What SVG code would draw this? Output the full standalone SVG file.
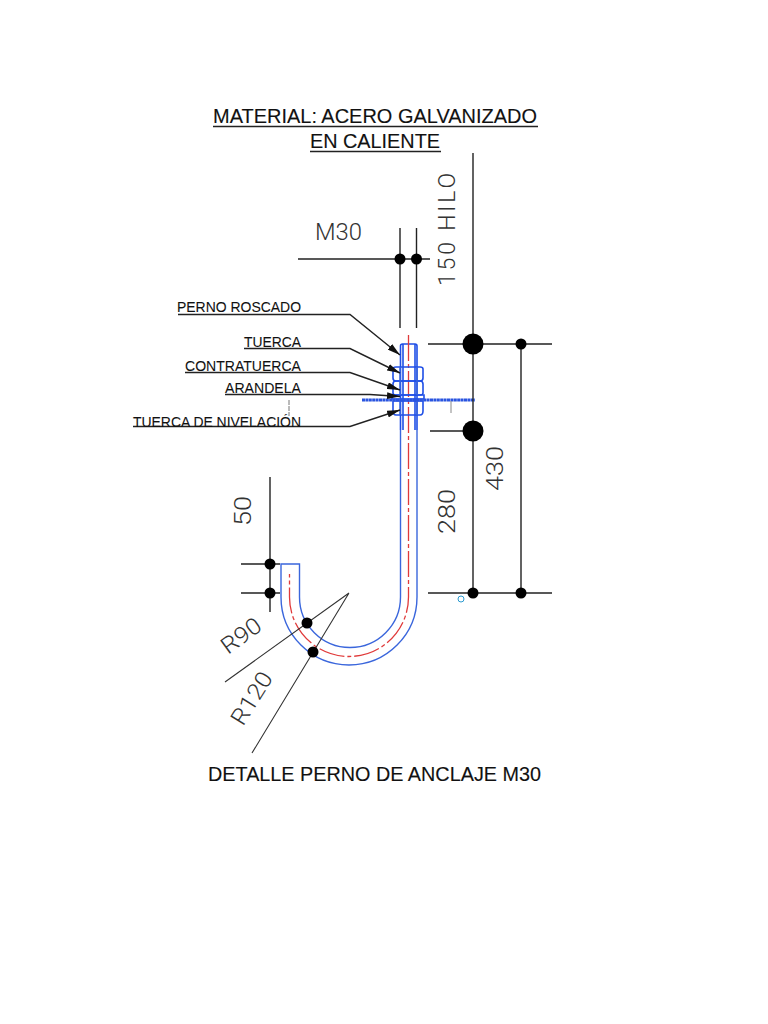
<svg xmlns="http://www.w3.org/2000/svg" width="768" height="1024" viewBox="0 0 768 1024">
<defs>
<style>
.k{fill:none;stroke:#222;stroke-width:1.4}
.l{fill:none;stroke:#333;stroke-width:1.1}
.b{fill:none;stroke:#3a66dc;stroke-width:1.4}
.c{fill:none;stroke:#1f4fe6;stroke-width:1.6}
.r{fill:none;stroke:#e03a3a;stroke-width:1.3}
.d{fill:#000}
.t{font-family:"Liberation Sans",Arial,sans-serif;fill:#111;stroke:#111}
.h{font-size:20px;stroke-width:.12}
.s{font-size:14px;stroke-width:.08}
.n{font-family:"Roboto","Liberation Sans",sans-serif;font-weight:300;fill:#333;font-size:23px}
</style>
<marker id="a" viewBox="0 0 13 7" refX="13" refY="3.500" markerWidth="13" markerHeight="7" markerUnits="userSpaceOnUse" orient="auto"><path d="M0 0L13 3.500L0 7Z" fill="#111"/></marker>
</defs>
<rect width="768" height="1024" fill="#fff"/>
<g id="titles">
<text class="t h" x="213" y="123" textLength="324" lengthAdjust="spacingAndGlyphs">MATERIAL: ACERO GALVANIZADO</text>
<path class="k" d="M213 126.500H538M310 151.500H441"/>
<text class="t h" x="310" y="148" textLength="130" lengthAdjust="spacingAndGlyphs">EN CALIENTE</text>
<text class="t h" x="208" y="781" textLength="333" lengthAdjust="spacingAndGlyphs">DETALLE PERNO DE ANCLAJE M30</text>
</g>
<g id="bolt">
<path class="b" d="M400.500 430V597A50 50 0 0 1 299.500 597V564H281V597A68 68 0 0 0 417 597V430"/>
<path class="c" d="M400.500 430V346Q400.500 344 402.500 344H415Q417 344 417 346V430M403 344V430M415 344V430"/>
<path class="r" stroke-dasharray="26 3 4 3" d="M408.500 335V597A59.500 59.500 0 0 1 289.500 597V574"/>
</g>
<g id="nuts">
<path class="c" d="M393 369Q393 367 396 367H420Q423 367 423 369V378Q423 381 420 381H396Q393 381 393 378Z"/>
<path class="c" d="M393 384Q393 381 396 381H420Q423 381 423 384V393Q423 395 420 395H396Q393 395 393 393Z"/>
<path class="c" d="M392 395H424V399H392Z"/>
<path class="c" d="M393 401H423V411Q423 415 420 415H396Q393 415 393 411Z"/>
<path class="b" d="M400 367V381M417 367V381M400 381V395M417 381V395M400 401V415M417 401V415"/>
<path d="M362 400H475" fill="none" stroke="#2a55e0" stroke-width="3" stroke-dasharray="3 .4"/>
</g>
<g id="connectors">
<path class="k" d="M473 153V593M428 344H552M430 431H473M428 593H552M521 344V593"/>
<path class="k" d="M298 259H430M400 228V328M416.500 228V328"/>
<path class="k" d="M270 477V612M241 564H280M241 593H280"/>
<path class="l" d="M349 593L225 682M349 593L252 753"/>
<path d="M451 401V413" stroke="#888" fill="none"/>
<path d="M289 400V416" stroke="#777" fill="none" stroke-dasharray="5 1"/>
<path class="k" marker-end="url(#a)" d="M178 314.500H350L400 355"/>
<path class="k" marker-end="url(#a)" d="M244 348.500H350L400 373"/>
<path class="k" marker-end="url(#a)" d="M185 372.500H350L400 390"/>
<path class="k" marker-end="url(#a)" d="M225 394.500H370L400 396.500"/>
<path class="k" marker-end="url(#a)" d="M133 426.500H350L400 410"/>
</g>
<g id="dots">
<circle class="d" cx="473" cy="344" r="10.500"/>
<circle class="d" cx="473" cy="431" r="10.500"/>
<circle class="d" cx="473" cy="593" r="5.500"/>
<circle class="d" cx="521" cy="344" r="5.500"/>
<circle class="d" cx="521" cy="593" r="5.500"/>
<circle class="d" cx="400" cy="259" r="5.500"/>
<circle class="d" cx="416.500" cy="259" r="5.500"/>
<circle class="d" cx="270" cy="564" r="5.500"/>
<circle class="d" cx="270" cy="593" r="5.500"/>
<circle class="d" cx="307" cy="623" r="5.500"/>
<circle class="d" cx="313" cy="652" r="5.500"/>
<circle cx="461" cy="599" r="3" fill="none" stroke="#2a9ad0"/>
</g>
<g id="labels">
<text class="t s" x="177" y="312" textLength="124" lengthAdjust="spacingAndGlyphs">PERNO ROSCADO</text>
<text class="t s" x="244" y="347" textLength="57" lengthAdjust="spacingAndGlyphs">TUERCA</text>
<text class="t s" x="185" y="371" textLength="116" lengthAdjust="spacingAndGlyphs">CONTRATUERCA</text>
<text class="t s" x="225" y="393" textLength="76" lengthAdjust="spacingAndGlyphs">ARANDELA</text>
<text class="t s" x="133" y="427" textLength="168" lengthAdjust="spacingAndGlyphs">TUERCA DE NIVELACIÓN</text>
<text class="n" x="315" y="240" textLength="47" lengthAdjust="spacingAndGlyphs">M30</text>
<text class="n" transform="translate(455 286) rotate(-90)" textLength="113" lengthAdjust="spacing">150 HILO</text>
<text class="n" transform="translate(455 534) rotate(-90)" textLength="45" lengthAdjust="spacingAndGlyphs">280</text>
<text class="n" transform="translate(503 491) rotate(-90)" textLength="45" lengthAdjust="spacingAndGlyphs">430</text>
<text class="n" transform="translate(251 526) rotate(-90)" textLength="30" lengthAdjust="spacingAndGlyphs">50</text>
<text class="n" transform="translate(228 655) rotate(-36)" textLength="44" lengthAdjust="spacingAndGlyphs">R90</text>
<text class="n" transform="translate(243 727) rotate(-58)" textLength="58" lengthAdjust="spacingAndGlyphs">R120</text>
</g>
</svg>
